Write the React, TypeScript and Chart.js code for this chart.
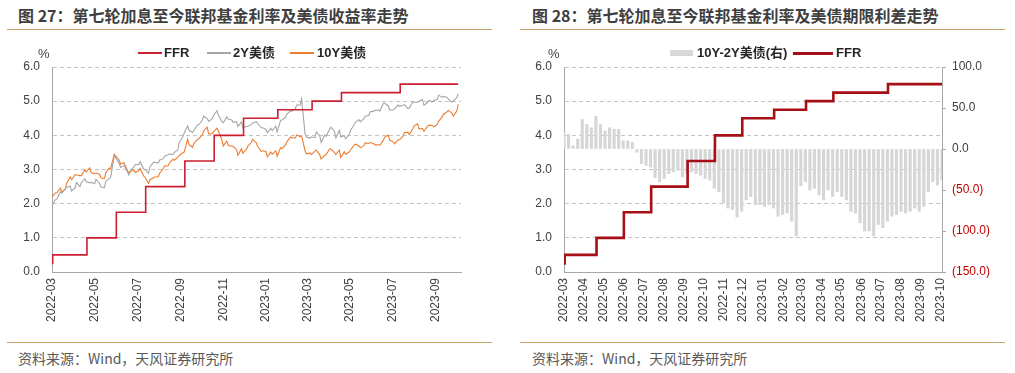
import React, { useEffect, useRef } from "react";
import { Chart, registerables } from "chart.js";

Chart.register(...registerables);

// ---------------- data ----------------
const START_DATE = "2022-03-16";

// weekly (Wednesday) observation dates
const weekDates = [
  "2022-03-16", "2022-03-23", "2022-03-30", "2022-04-06", "2022-04-13", "2022-04-20", "2022-04-27",
  "2022-05-04", "2022-05-11", "2022-05-18", "2022-05-25",
  "2022-06-01", "2022-06-08", "2022-06-15", "2022-06-22", "2022-06-29",
  "2022-07-06", "2022-07-13", "2022-07-20", "2022-07-27",
  "2022-08-03", "2022-08-10", "2022-08-17", "2022-08-24", "2022-08-31",
  "2022-09-07", "2022-09-14", "2022-09-21", "2022-09-28",
  "2022-10-05", "2022-10-12", "2022-10-19", "2022-10-26",
  "2022-11-02", "2022-11-09", "2022-11-16", "2022-11-23", "2022-11-30",
  "2022-12-07", "2022-12-14", "2022-12-21", "2022-12-28",
  "2023-01-04", "2023-01-11", "2023-01-18", "2023-01-25",
  "2023-02-01", "2023-02-08", "2023-02-15", "2023-02-22",
  "2023-03-01", "2023-03-08", "2023-03-15", "2023-03-22", "2023-03-29",
  "2023-04-05", "2023-04-12", "2023-04-19", "2023-04-26",
  "2023-05-03", "2023-05-10", "2023-05-17", "2023-05-24", "2023-05-31",
  "2023-06-07", "2023-06-14", "2023-06-21", "2023-06-28",
  "2023-07-05", "2023-07-12", "2023-07-19", "2023-07-26",
  "2023-08-02", "2023-08-09", "2023-08-16", "2023-08-23", "2023-08-30",
  "2023-09-06", "2023-09-13", "2023-09-20", "2023-09-27",
  "2023-10-04", "2023-10-11", "2023-10-18",
];

// extra (Monday) observation dates for the yield lines
const midDates = [
  "2022-03-21", "2022-03-28", "2022-04-04", "2022-04-11", "2022-04-18", "2022-04-25",
  "2022-05-02", "2022-05-09", "2022-05-16", "2022-05-23", "2022-05-30",
  "2022-06-06", "2022-06-13", "2022-06-20", "2022-06-27",
  "2022-07-04", "2022-07-11", "2022-07-18", "2022-07-25",
  "2022-08-01", "2022-08-08", "2022-08-15", "2022-08-22", "2022-08-29",
  "2022-09-05", "2022-09-12", "2022-09-19", "2022-09-26",
  "2022-10-03", "2022-10-10", "2022-10-17", "2022-10-24", "2022-10-31",
  "2022-11-07", "2022-11-14", "2022-11-21", "2022-11-28",
  "2022-12-05", "2022-12-12", "2022-12-19", "2022-12-26",
  "2023-01-02", "2023-01-09", "2023-01-16", "2023-01-23", "2023-01-30",
  "2023-02-06", "2023-02-13", "2023-02-20", "2023-02-27",
  "2023-03-06", "2023-03-13", "2023-03-20", "2023-03-27",
  "2023-04-03", "2023-04-10", "2023-04-17", "2023-04-24",
  "2023-05-01", "2023-05-08", "2023-05-15", "2023-05-22", "2023-05-29",
  "2023-06-05", "2023-06-12", "2023-06-19", "2023-06-26",
  "2023-07-03", "2023-07-10", "2023-07-17", "2023-07-24", "2023-07-31",
  "2023-08-07", "2023-08-14", "2023-08-21", "2023-08-28",
  "2023-09-04", "2023-09-11", "2023-09-18", "2023-09-25",
  "2023-10-02", "2023-10-09", "2023-10-16",
];

// 2Y US Treasury yield (%), weekly
const y2Values = [
  1.95, 2.14, 2.31, 2.48, 2.37, 2.62, 2.62,
  2.64, 2.63, 2.71, 2.49,
  2.66, 2.79, 3.35, 3.06, 3.05,
  2.98, 3.14, 3.23, 3.0,
  3.07, 3.21, 3.28, 3.39, 3.45,
  3.5, 3.79, 4.06, 4.14,
  4.15, 4.31, 4.56, 4.41,
  4.58, 4.59, 4.37, 4.48, 4.38,
  4.26, 4.22, 4.26, 4.36,
  4.36, 4.22, 4.08, 4.14,
  4.1, 4.45, 4.62, 4.7,
  4.89, 5.07, 3.95, 3.95, 4.1,
  3.79, 3.97, 4.24, 3.92,
  3.95, 3.9, 4.14, 4.37, 4.4,
  4.56, 4.69, 4.73, 4.71,
  4.94, 4.74, 4.77, 4.85,
  4.9, 4.8, 4.97, 5.0, 4.88,
  5.02, 5.02, 5.18, 5.14,
  5.06, 5.01, 5.22,
];
// 2Y US Treasury yield (%), Mondays
const y2MidValues = [
  2.12, 2.35, 2.43, 2.51, 2.46, 2.5, 2.73, 2.61, 2.58, 2.59,
  2.47, 2.73, 3.4, 3.18, 3.12, 2.84, 3.07, 3.15, 3.02, 2.89,
  3.21, 3.19, 3.31, 3.43, 3.44, 3.57, 3.95, 4.28, 4.09, 4.31,
  4.45, 4.49, 4.48, 4.72, 4.4, 4.54, 4.45, 4.4, 4.39, 4.26,
  4.32, 4.4, 4.22, 4.18, 4.21, 4.27, 4.44, 4.52, 4.72, 4.79,
  4.89, 4.03, 3.92, 3.93, 3.98, 4.01, 4.18, 4.12, 4.15, 3.99,
  4.01, 4.31, 4.46, 4.48, 4.58, 4.7, 4.74, 4.94, 4.86, 4.75,
  4.89, 4.88, 4.78, 4.98, 4.97, 5.05, 4.96, 4.98, 5.05, 5.11,
  5.11, 4.97, 5.1,
];

// 10Y US Treasury yield (%), weekly
const y10Values = [
  2.19, 2.32, 2.35, 2.6, 2.7, 2.84, 2.82,
  2.93, 2.91, 2.89, 2.75,
  2.91, 3.03, 3.4, 3.16, 3.1,
  2.93, 2.91, 3.03, 2.78,
  2.7, 2.78, 2.89, 3.1, 3.19,
  3.27, 3.41, 3.51, 3.73,
  3.76, 3.9, 4.13, 4.04,
  4.1, 4.12, 3.69, 3.71, 3.68,
  3.42, 3.48, 3.68, 3.88,
  3.69, 3.55, 3.37, 3.45,
  3.39, 3.61, 3.81, 3.92,
  4.01, 3.98, 3.46, 3.44, 3.57,
  3.31, 3.43, 3.6, 3.44,
  3.35, 3.44, 3.57, 3.74, 3.64,
  3.78, 3.79, 3.72, 3.71,
  3.95, 3.86, 3.75, 3.87,
  4.08, 4.02, 4.28, 4.19, 4.12,
  4.3, 4.25, 4.41, 4.61,
  4.73, 4.56, 4.91,
];
// 10Y US Treasury yield (%), Mondays
const y10MidValues = [
  2.32, 2.46, 2.42, 2.78, 2.85, 2.82, 2.99, 3.05, 2.88, 2.86,
  2.74, 3.04, 3.45, 3.28, 3.2, 2.88, 2.99, 2.96, 2.81, 2.6,
  2.76, 2.79, 3.02, 3.11, 3.3, 3.36, 3.49, 3.88, 3.65, 3.88,
  4.01, 4.24, 4.05, 4.21, 3.87, 3.83, 3.68, 3.58, 3.61, 3.59,
  3.79, 3.79, 3.53, 3.53, 3.51, 3.55, 3.64, 3.72, 3.95, 3.92,
  3.96, 3.55, 3.48, 3.53, 3.43, 3.41, 3.6, 3.5, 3.57, 3.52,
  3.51, 3.72, 3.69, 3.69, 3.76, 3.76, 3.72, 3.86, 4.01, 3.81,
  3.87, 3.97, 4.09, 4.19, 4.34, 4.2, 4.26, 4.29, 4.32, 4.54,
  4.69, 4.65, 4.71,
];

// 10Y-2Y spread (bp), weekly
const spreadValues = [
  20, 18, 4, 12, 36, 30, 26,
  40, 30, 22, 26,
  24, 24, 10, 10, 8,
  -4, -18, -20, -22,
  -35, -40, -36, -30, -28,
  -26, -34, -30, -28,
  -30, -32, -36, -38,
  -48, -52, -66, -72, -74,
  -83, -76, -62, -58,
  -68, -68, -70, -68,
  -72, -82, -80, -78,
  -88, -106, -45, -40, -50,
  -48, -56, -62, -50,
  -58, -52, -58, -62, -76,
  -78, -90, -100, -100,
  -106, -92, -96, -88,
  -82, -80, -76, -78, -76,
  -72, -76, -70, -52,
  -40, -44, -38,
];

// Fed funds target rate upper bound (%)
const ffrDates = [
  "2022-03-16", "2022-03-17", "2022-05-05", "2022-06-16", "2022-07-28", "2022-09-22",
  "2022-11-03", "2022-12-15", "2023-02-02", "2023-03-23", "2023-05-04", "2023-07-27", "2023-10-18",
];
const ffrValues = [0.25, 0.5, 1.0, 1.75, 2.5, 3.25, 4.0, 4.5, 4.75, 5.0, 5.25, 5.5, 5.5];

const leftTickDates = [
  "2022-03-16", "2022-05-16", "2022-07-16", "2022-09-16", "2022-11-16",
  "2023-01-16", "2023-03-16", "2023-05-16", "2023-07-16", "2023-09-16",
];
const rightTickDates = [
  "2022-03-16", "2022-04-16", "2022-05-16", "2022-06-16", "2022-07-16", "2022-08-16", "2022-09-16",
  "2022-10-16", "2022-11-16", "2022-12-16", "2023-01-16", "2023-02-16", "2023-03-16", "2023-04-16",
  "2023-05-16", "2023-06-16", "2023-07-16", "2023-08-16", "2023-09-16", "2023-10-16",
];
const LEFT_END_DATE = "2023-10-22";
const RIGHT_END_DATE = "2023-10-18";

// ---------------- helpers ----------------
const FONT = '"Liberation Sans", Arial, "Noto Sans CJK SC", sans-serif';
const CJK = '"Noto Sans CJK SC", "Liberation Sans", sans-serif';
const AXIS_COLOR = "#a6a6a6";
const GRID_COLOR = "#c4c4c4";
const TICK_COLOR = "#404040";

const dayOf = (d: string) =>
  Math.round((Date.parse(d) - Date.parse(START_DATE)) / 86400000);

const toPoints = (dates: string[], vals: number[]) =>
  dates.map((d, i) => ({ x: dayOf(d), y: vals[i] }));

const mergePoints = (dA: string[], vA: number[], dB: string[], vB: number[]) =>
  [...toPoints(dA, vA), ...toPoints(dB, vB)].sort((a, b) => a.x - b.x);

function xAxis(tickDates: string[], endDate: string) {
  return {
    type: "linear",
    offset: false,
    min: 0,
    max: dayOf(endDate),
    afterBuildTicks: (scale: any) => {
      scale.ticks = tickDates.map((d) => ({ value: dayOf(d) }));
    },
    afterFit: (scale: any) => {
      scale.height = 68;
    },
    ticks: {
      autoSkip: false,
      minRotation: 90,
      maxRotation: 90,
      padding: 6,
      color: TICK_COLOR,
      font: { family: FONT, size: 12 },
      callback: (_v: any, i: number) => tickDates[i].slice(0, 7),
    },
    grid: { display: false, drawTicks: false, tickLength: 0 },
    border: { display: true, color: AXIS_COLOR, width: 1 },
  };
}

function leftYAxis(width: number) {
  return {
    type: "linear",
    position: "left",
    min: 0,
    max: 6,
    afterFit: (scale: any) => {
      scale.width = width;
    },
    ticks: {
      stepSize: 1,
      padding: 12,
      color: TICK_COLOR,
      font: { family: FONT, size: 12 },
      callback: (v: any) => Number(v).toFixed(1),
    },
    grid: { color: GRID_COLOR, drawTicks: false, lineWidth: 1 },
    border: { display: true, color: AXIS_COLOR, width: 1, dash: [4, 3] },
  };
}

const baseOptions = {
  animation: false,
  responsive: false,
  events: [],
  plugins: { legend: { display: false }, tooltip: { enabled: false } },
};

// ---------------- charts ----------------
function LeftChart() {
  const ref = useRef<HTMLCanvasElement>(null);
  useEffect(() => {
    if (!ref.current) return;
    const chart = new Chart(ref.current, {
      type: "line",
      data: {
        datasets: [
          {
            label: "FFR",
            data: toPoints(ffrDates, ffrValues),
            borderColor: "#cc1f2f",
            borderWidth: 1.6,
            stepped: "before",
            pointRadius: 0,
          },
          {
            label: "2Y美债",
            data: mergePoints(weekDates, y2Values, midDates, y2MidValues),
            borderColor: "#a6a6a6",
            borderWidth: 1.1,
            pointRadius: 0,
            tension: 0,
          },
          {
            label: "10Y美债",
            data: mergePoints(weekDates, y10Values, midDates, y10MidValues),
            borderColor: "#ed7d31",
            borderWidth: 1.1,
            pointRadius: 0,
            tension: 0,
          },
        ],
      },
      options: {
        ...baseOptions,
        layout: { padding: { left: 12, top: 27, right: 39, bottom: 0 } },
        scales: {
          x: xAxis(leftTickDates, LEFT_END_DATE),
          y: leftYAxis(40),
        },
      } as any,
    });
    return () => chart.destroy();
  }, []);
  return (
    <canvas
      ref={ref}
      width={500}
      height={300}
      style={{ position: "absolute", left: 0, top: 40, width: 500, height: 300 }}
    />
  );
}

function RightChart() {
  const ref = useRef<HTMLCanvasElement>(null);
  useEffect(() => {
    if (!ref.current) return;
    const chart = new Chart(ref.current, {
      type: "line",
      data: {
        datasets: [
          {
            type: "bar",
            label: "10Y-2Y美债(右)",
            data: toPoints(weekDates, spreadValues),
            backgroundColor: "#d6d6d6",
            barThickness: 2.5,
            yAxisID: "y1",
            order: 2,
          } as any,
          {
            type: "line",
            label: "FFR",
            data: toPoints(ffrDates, ffrValues),
            borderColor: "#a50f15",
            borderWidth: 2.6,
            stepped: "before",
            pointRadius: 0,
            yAxisID: "y",
            order: 1,
          },
        ],
      },
      options: {
        ...baseOptions,
        layout: { padding: { left: 14, top: 27, right: 13, bottom: 0 } },
        scales: {
          x: xAxis(rightTickDates, RIGHT_END_DATE),
          y: leftYAxis(45),
          y1: {
            type: "linear",
            position: "right",
            min: -150,
            max: 100,
            afterFit: (scale: any) => {
              scale.width = 60;
            },
            ticks: {
              stepSize: 50,
              padding: 6,
              font: { family: FONT, size: 12 },
              color: (ctx: any) => (ctx.tick && ctx.tick.value < 0 ? "#c00000" : TICK_COLOR),
              callback: (v: any) => {
                const n = Number(v);
                return n < 0 ? `(${Math.abs(n).toFixed(1)})` : n.toFixed(1);
              },
            },
            grid: {
              drawOnChartArea: false,
              drawTicks: true,
              tickLength: 4,
              color: AXIS_COLOR,
            },
            border: { display: true, color: AXIS_COLOR, width: 1 },
          },
        },
      } as any,
    });
    return () => chart.destroy();
  }, []);
  return (
    <canvas
      ref={ref}
      width={510}
      height={300}
      style={{ position: "absolute", left: 505, top: 40, width: 510, height: 300 }}
    />
  );
}

// ---------------- static text ----------------
const abs = (s: React.CSSProperties): React.CSSProperties => ({ position: "absolute", ...s });

const titleStyle: React.CSSProperties = {
  fontFamily: CJK,
  fontWeight: 700,
  fontSize: 16,
  lineHeight: "18px",
  color: "#3f3f3f",
  whiteSpace: "nowrap",
};
const sourceStyle: React.CSSProperties = {
  fontFamily: CJK,
  fontSize: 14,
  lineHeight: "16px",
  color: "#595959",
  whiteSpace: "nowrap",
};
const legendText: React.CSSProperties = {
  fontFamily: FONT,
  fontWeight: 700,
  fontSize: 13,
  lineHeight: "14px",
  color: "#262626",
  whiteSpace: "nowrap",
};
const pctStyle: React.CSSProperties = {
  fontFamily: FONT,
  fontSize: 13,
  lineHeight: "14px",
  color: TICK_COLOR,
};
const RULE = "#c9a46a";

export default function App() {
  return (
    <div
      style={{
        position: "absolute",
        left: 0,
        top: 0,
        width: 1015,
        height: 373,
        background: "#ffffff",
        overflow: "hidden",
      }}
    >
      {/* titles */}
      <div style={abs({ left: 18, top: 6, ...titleStyle })}>图 27：第七轮加息至今联邦基金利率及美债收益率走势</div>
      <div style={abs({ left: 532, top: 6, ...titleStyle })}>图 28：第七轮加息至今联邦基金利率及美债期限利差走势</div>
      <div style={abs({ left: 7, top: 29, width: 485, height: 1, background: RULE })} />
      <div style={abs({ left: 520, top: 29, width: 485, height: 1, background: RULE })} />

      <LeftChart />
      <RightChart />

      {/* unit labels */}
      <div style={abs({ left: 38, top: 47, ...pctStyle })}>%</div>
      <div style={abs({ left: 548, top: 47, ...pctStyle })}>%</div>

      {/* left legend */}
      <div style={abs({ left: 138, top: 52, width: 24, height: 1.6, background: "#cc1f2f" })} />
      <div style={abs({ left: 164, top: 46, ...legendText })}>FFR</div>
      <div style={abs({ left: 207, top: 52, width: 24, height: 1.6, background: "#a6a6a6" })} />
      <div style={abs({ left: 233, top: 46, ...legendText })}>2Y美债</div>
      <div style={abs({ left: 290, top: 52, width: 24, height: 1.6, background: "#ed7d31" })} />
      <div style={abs({ left: 317, top: 46, ...legendText })}>10Y美债</div>

      {/* right legend */}
      <div style={abs({ left: 670, top: 50, width: 23, height: 6, background: "#d9d9d9" })} />
      <div style={abs({ left: 697, top: 46, ...legendText })}>10Y-2Y美债(右)</div>
      <div style={abs({ left: 793, top: 52, width: 40, height: 2.6, background: "#a50f15" })} />
      <div style={abs({ left: 836, top: 46, ...legendText })}>FFR</div>

      {/* sources */}
      <div style={abs({ left: 7, top: 342, width: 485, height: 1, background: RULE })} />
      <div style={abs({ left: 520, top: 342, width: 485, height: 1, background: RULE })} />
      <div style={abs({ left: 18, top: 350, ...sourceStyle })}>资料来源：Wind，天风证券研究所</div>
      <div style={abs({ left: 532, top: 350, ...sourceStyle })}>资料来源：Wind，天风证券研究所</div>
    </div>
  );
}
